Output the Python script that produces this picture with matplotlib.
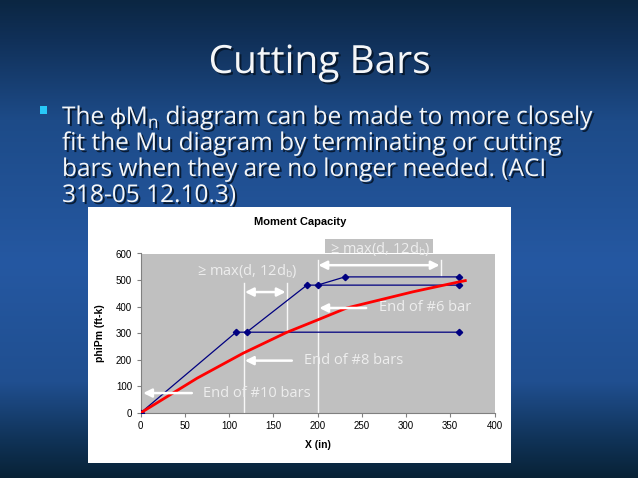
import numpy as np
import matplotlib
matplotlib.use("Agg")
import matplotlib.pyplot as plt
import matplotlib.patheffects as pe
from matplotlib.patches import Rectangle

# ---------------------------------------------------------------------------
# Data
# ---------------------------------------------------------------------------
# phiMn steps (one series per group of bars)
bars10_x = [0, 108, 360]
bars10_y = [0, 304, 304]
bars8_x = [120, 188, 360]
bars8_y = [304, 481, 481]
bars6_x = [200, 231, 360]
bars6_y = [481, 512, 512]

# Mu diagram
mu_x = [0, 64, 116, 165, 200, 233, 308, 361, 367]
mu_y = [0, 131, 225, 303, 350, 395, 456, 494, 498]

x_ticks = [0, 50, 100, 150, 200, 250, 300, 350, 400]
y_ticks = [0, 100, 200, 300, 400, 500, 600]

bullet_lines = [
    r"The $\mathrm{\phi}$M$_\mathregular{n}$ diagram can be made to more closely",
    "fit the Mu diagram by terminating or cutting",
    "bars when they are no longer needed. (ACI",
    "318-05 12.10.3)",
]

W, H = 638, 478
fig = plt.figure(figsize=(W / 100, H / 100), dpi=100)

# ---------------------------------------------------------------------------
# Slide background: vertical blue gradient
# ---------------------------------------------------------------------------
bg = fig.add_axes([0, 0, 1, 1], zorder=0)
stops = [0.0, 0.08, 0.25, 0.55, 0.8, 0.92, 1.0]
cols = np.array([
    [0x0b, 0x26, 0x42], [0x10, 0x30, 0x58], [0x1d, 0x4b, 0x88],
    [0x25, 0x58, 0xa2], [0x20, 0x4f, 0x90], [0x10, 0x33, 0x58],
    [0x08, 0x22, 0x36]]) / 255.0
t = np.linspace(0, 1, H)
grad = np.stack([np.interp(t, stops, cols[:, i]) for i in range(3)], axis=1)
bg.imshow(np.repeat(grad[:, None, :], 2, axis=1), aspect="auto",
          extent=[0, 1, 0, 1], origin="upper")
bg.set_xlim(0, 1)
bg.set_ylim(0, 1)
bg.axis("off")

shadow = [pe.SimplePatchShadow(offset=(1.5, -1.5), shadow_rgbFace="#06162a", alpha=0.9),
          pe.Normal()]

# upright greek from the text font, subscripts in the same face
plt.rcParams["mathtext.fontset"] = "custom"
plt.rcParams["mathtext.rm"] = "Open Sans"
plt.rcParams["mathtext.it"] = "Open Sans"
plt.rcParams["mathtext.fallback"] = "stixsans"

fig.text(319.5 / W, 1 - 73 / H, "Cutting Bars", fontsize=28, family="Open Sans",
         color="#f4f6f8", ha="center", va="baseline", path_effects=shadow, zorder=5)

fig.patches.append(Rectangle((40 / W, 1 - 114 / H), 7 / W, 8 / H, transform=fig.transFigure,
                             facecolor="#28c8f8", edgecolor="none", zorder=5))
for i, line in enumerate(bullet_lines):
    fig.text(62 / W, 1 - (124 + 26 * i) / H, line, fontsize=17.6, family="Open Sans",
             color="#f4f6f8", ha="left", va="baseline", path_effects=shadow, zorder=5)

# ---------------------------------------------------------------------------
# Embedded chart
# ---------------------------------------------------------------------------
fig.patches.append(Rectangle((88 / W, 1 - 463 / H), 423 / W, 256 / H,
                             transform=fig.transFigure, facecolor="white",
                             edgecolor="none", zorder=6))

ax = fig.add_axes([140.5 / W, 1 - 413 / H, 354 / W, 159.5 / H], zorder=7)
ax.set_facecolor("#c0c0c0")
ax.set_xlim(0, 400)
ax.set_ylim(0, 600)
ax.set_xticks(x_ticks)
ax.set_yticks(y_ticks)
ax.tick_params(labelsize=7, length=3, color="#808080", pad=3)
for lab in ax.get_xticklabels() + ax.get_yticklabels():
    lab.set_family("Liberation Sans")
for s in ax.spines.values():
    s.set_color("#808080")
    s.set_linewidth(0.8)
ax.spines["top"].set_visible(False)
ax.spines["right"].set_visible(False)

# label box above the plot area
ax.add_patch(Rectangle((208, 600), 123, 56, facecolor="#c0c0c0", edgecolor="none",
                       clip_on=False, zorder=1))

for xs, ys in [(bars10_x, bars10_y), (bars8_x, bars8_y), (bars6_x, bars6_y)]:
    ax.plot(xs, ys, color="#000080", lw=0.9, marker="D", ms=3.2, zorder=3)
ax.plot(mu_x, mu_y, color="#ff0000", lw=2, zorder=4)

# development length guides
guide = dict(color="white", lw=1, alpha=0.9, zorder=2)
ax.plot([117, 117], [0, 490], **guide)
ax.plot([165, 165], [307, 490], **guide)
ax.plot([200, 200], [0, 577], **guide)
ax.plot([339, 339], [515, 577], **guide)

arr2 = dict(arrowstyle="<|-|>,head_length=0.5,head_width=0.25", color="white", lw=1.8,
            shrinkA=0, shrinkB=0)
arr1 = dict(arrowstyle="-|>,head_length=0.5,head_width=0.25", color="white", lw=1.8,
            shrinkA=0, shrinkB=0)
ax.annotate("", xy=(118, 455), xytext=(164, 455), arrowprops=arr2, zorder=5)
ax.annotate("", xy=(201, 556), xytext=(338, 556), arrowprops=arr2, zorder=5, annotation_clip=False)
ax.annotate("", xy=(3, 75), xytext=(58, 75), arrowprops=arr1, zorder=5)
ax.annotate("", xy=(118, 197), xytext=(171, 197), arrowprops=arr1, zorder=5)
ax.annotate("", xy=(202, 395), xytext=(255, 395), arrowprops=arr1, zorder=5)

note = dict(fontsize=10.5, family="Open Sans", color="#eeeeee", va="center", zorder=6)
ax.text(71, 75, "End of #10 bars", **note)
ax.text(185, 196, "End of #8 bars", **note)
ax.text(269, 395, "End of #6 bar", **note)
ax.text(64, 535, "\u2265 max(d, 12d$_\\mathregular{b}$)", **note)
ax.text(214, 616, "\u2265 max(d, 12d$_\\mathregular{b}$)", clip_on=False, **note)

ax.set_xlabel("X (in)", fontsize=7.5, fontweight="bold", family="Liberation Sans", labelpad=6)
ax.set_ylabel("phiPm (ft-k)", fontsize=7.5, fontweight="bold", family="Liberation Sans", labelpad=8)
fig.text(300 / W, 1 - 222 / H, "Moment Capacity", fontsize=8, fontweight="bold",
         family="Liberation Sans", ha="center", va="center", zorder=8)

fig.savefig("out.png", dpi=100)
